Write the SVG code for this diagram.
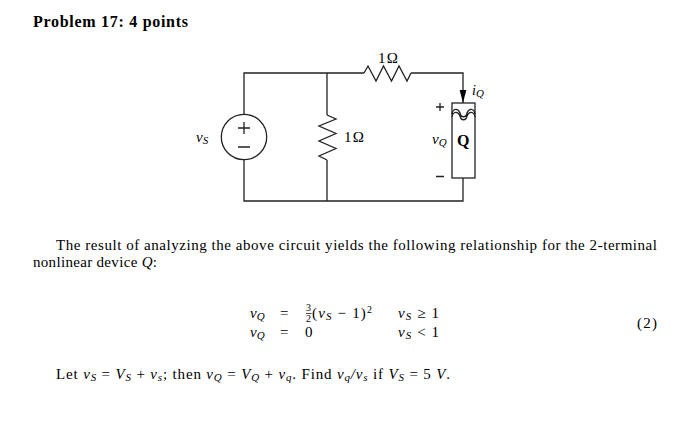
<svg xmlns="http://www.w3.org/2000/svg" width="680" height="438" viewBox="0 0 680 438">
<style>
text{font-family:"Liberation Serif","Times New Roman",serif;fill:#000;font-size:15px}
.b{font-weight:700}
.i{font-style:italic}
.s{font-size:11px;font-style:italic}
.n{font-size:10px}
.w{fill:none;stroke:#222;stroke-width:1.3}
</style>
<rect width="680" height="438" fill="#fff"/>
<text class="b" x="33" y="27" textLength="155" lengthAdjust="spacing" style="font-size:16px">Problem 17: 4 points</text>
<g id="connectors">
<path class="w" d="M244 114.300V73H364M411 73H463V103M327 73V115M327 160V201M244 159.700V201H463V178"/>
<path d="M463 103L459.700 90H466.300Z" fill="#000"/>
</g>
<g id="source">
<circle class="w" cx="244" cy="137" r="22.700"/>
<path class="w" d="M238 128H250M244 122V134M238 147H250"/>
<text class="i" x="196" y="142">v<tspan class="s" dy="2">S</tspan></text>
</g>
<g id="r-series">
<path class="w" d="M364 73L368 66L376 81L383.500 66L391.500 81L399 66L407 81L411 73"/>
<text x="378" y="63" textLength="20" lengthAdjust="spacing">1 Ω</text>
</g>
<g id="r-shunt">
<path class="w" d="M327 115L336 119L319 126L336 133.500L319 141L336 148.500L319 156L327 160"/>
<text x="344" y="142" textLength="20" lengthAdjust="spacing">1 Ω</text>
</g>
<g id="device-q">
<rect class="w" x="452" y="103" width="23" height="75" fill="#fff"/>
<path class="w" d="M452 114C453 108 458 108 460 113C461 118 466 118 467 113C469 108 474 108 475 114M452 117C453 111 458 111 460 116C461 121 466 121 467 116C469 111 474 111 475 117"/>
<text class="b" x="457" y="146" style="font-size:16px">Q</text>
<path class="w" d="M436 107H444M440 103V111M436 176.500H444"/>
<text class="i" x="432" y="144">v<tspan class="s" dy="2">Q</tspan></text>
<text class="i" x="472" y="95" style="font-size:14px">i<tspan class="s" dy="2">Q</tspan></text>
</g>
<text x="56" y="250" textLength="601" lengthAdjust="spacing">The result of analyzing the above circuit yields the following relationship for the 2-terminal</text>
<text x="33" y="267" textLength="124" lengthAdjust="spacing">nonlinear device <tspan class="i">Q</tspan>:</text>
<g id="equation">
<text class="i" x="250" y="318">v<tspan class="s" dy="2">Q</tspan></text>
<text x="280" y="318">=</text>
<text class="n" x="306" y="311">3</text>
<path d="M306 313.500H311.500" stroke="#000" stroke-width=".7"/>
<text class="n" x="306" y="322">2</text>
<text x="312" y="318" textLength="60" lengthAdjust="spacing">(<tspan class="i">v</tspan><tspan class="s" dy="2">S</tspan><tspan dy="-2"> − 1)</tspan><tspan class="n" dy="-5">2</tspan></text>
<text class="i" x="398" y="318" textLength="41" lengthAdjust="spacing">v<tspan class="s" dy="2">S</tspan><tspan dy="-2" font-style="normal"> ≥ 1</tspan></text>
<text class="i" x="250" y="337">v<tspan class="s" dy="2">Q</tspan></text>
<text x="280" y="337">=</text>
<text x="305" y="337">0</text>
<text class="i" x="398" y="337" textLength="41" lengthAdjust="spacing">v<tspan class="s" dy="2">S</tspan><tspan dy="-2" font-style="normal"> &lt; 1</tspan></text>
<text x="637" y="328" textLength="20" lengthAdjust="spacing">(2)</text>
</g>
<text x="56" y="379" textLength="394" lengthAdjust="spacing">Let <tspan class="i">v</tspan><tspan class="s" dy="2">S</tspan><tspan dy="-2"> = </tspan><tspan class="i">V</tspan><tspan class="s" dy="2">S</tspan><tspan dy="-2"> + </tspan><tspan class="i">v</tspan><tspan class="s" dy="2">s</tspan><tspan dy="-2">; then </tspan><tspan class="i">v</tspan><tspan class="s" dy="2">Q</tspan><tspan dy="-2"> = </tspan><tspan class="i">V</tspan><tspan class="s" dy="2">Q</tspan><tspan dy="-2"> + </tspan><tspan class="i">v</tspan><tspan class="s" dy="2">q</tspan><tspan dy="-2">. Find </tspan><tspan class="i">v</tspan><tspan class="s" dy="2">q</tspan><tspan class="i" dy="-2">/v</tspan><tspan class="s" dy="2">s</tspan><tspan dy="-2"> if </tspan><tspan class="i">V</tspan><tspan class="s" dy="2">S</tspan><tspan dy="-2"> = 5 </tspan><tspan class="i">V</tspan>.</text>
</svg>
